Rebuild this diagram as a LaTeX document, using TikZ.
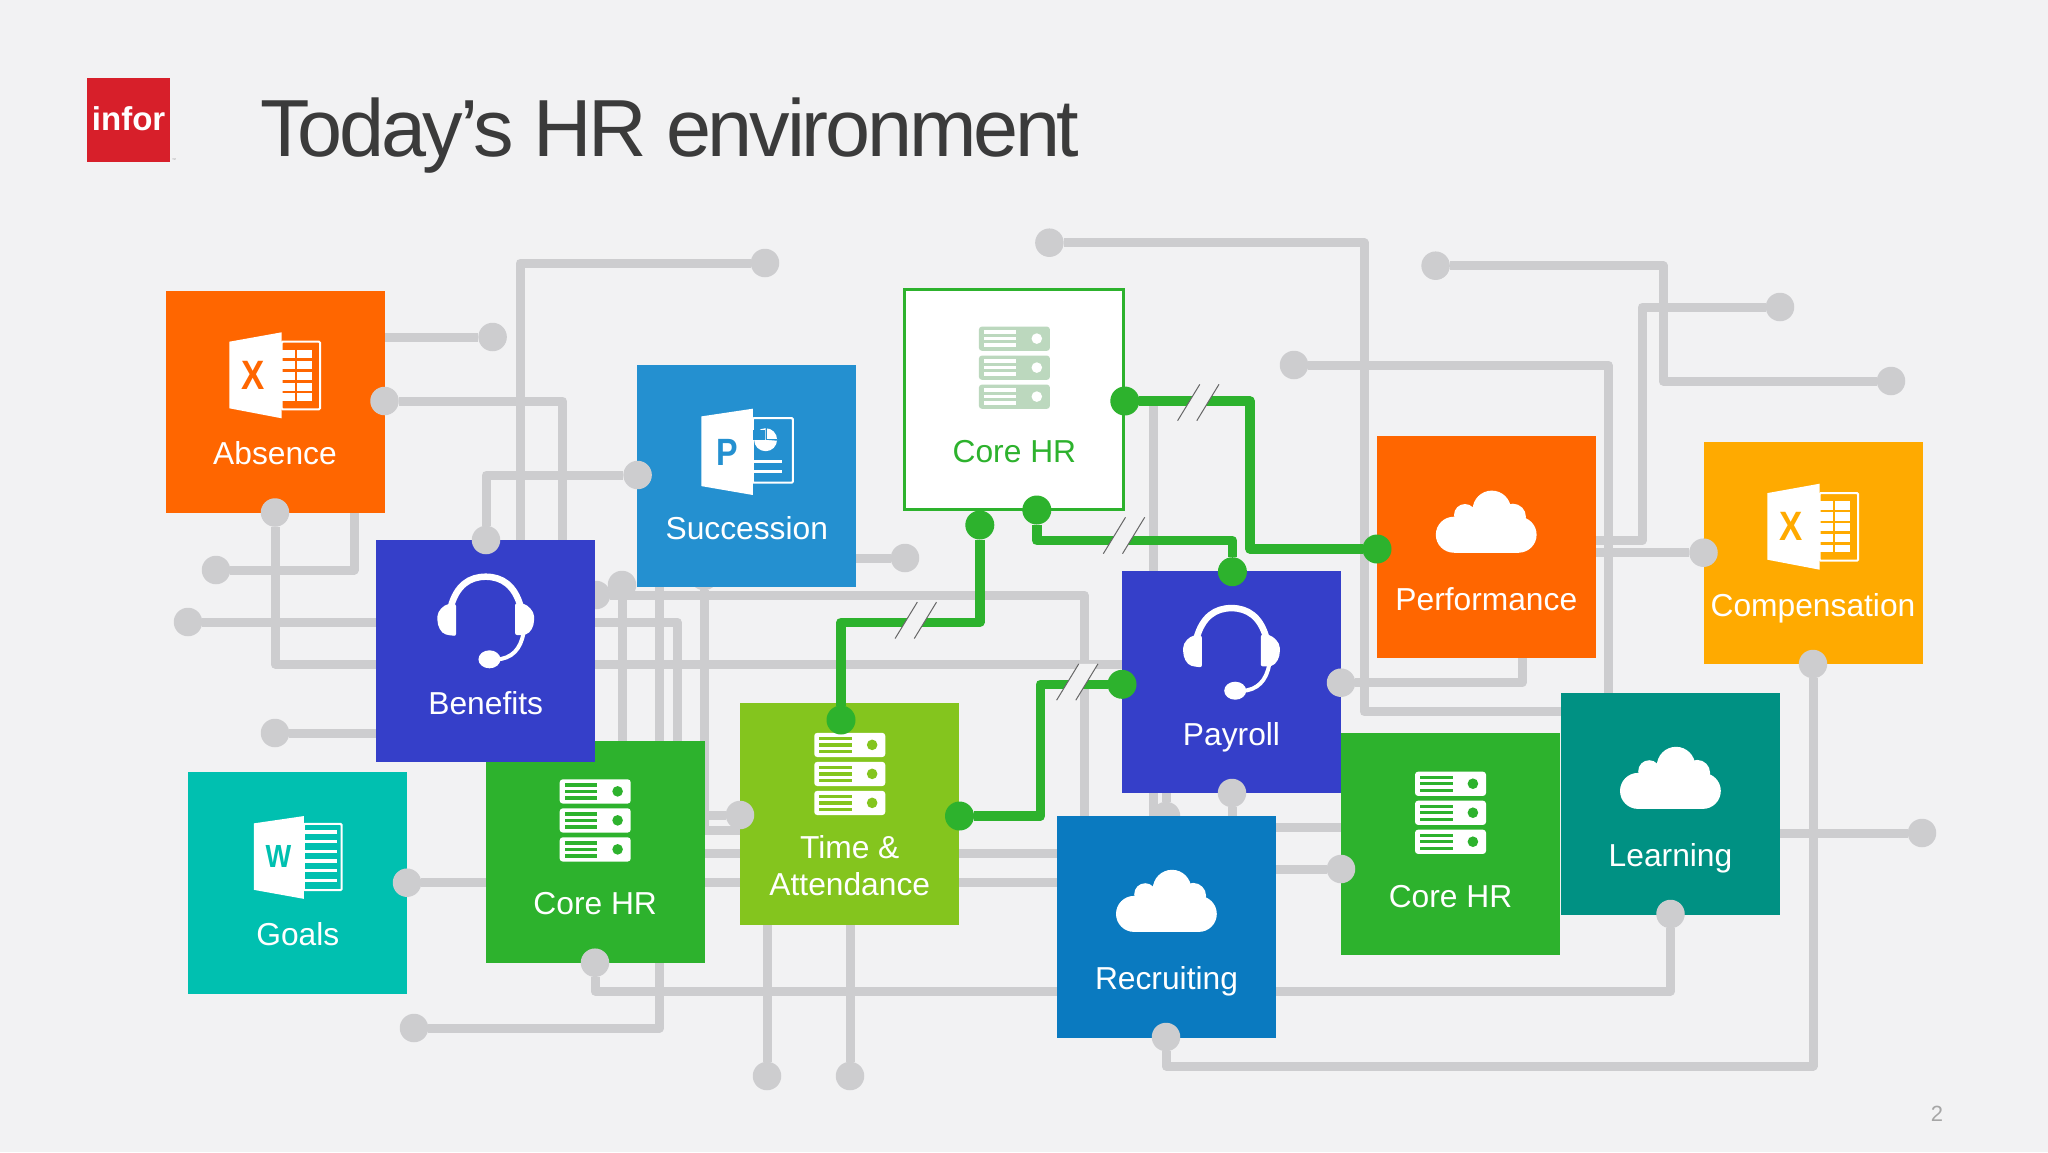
\documentclass[tikz,border=0pt]{standalone}
\usepackage{fontspec}
\setmainfont{Liberation Sans}
\pgfdeclarelayer{ground}
\pgfdeclarelayer{wires}
\pgfdeclarelayer{top}
\pgfsetlayers{ground,wires,main,top}
\definecolor{bgc}{HTML}{F2F2F3}
\definecolor{wirec}{HTML}{CDCDCF}
\definecolor{greenw}{HTML}{2DB22D}
\definecolor{cAbs}{HTML}{FF6600}
\definecolor{cSucc}{HTML}{2490D0}
\definecolor{cBlue}{HTML}{353FC9}
\definecolor{cTime}{HTML}{84C51E}
\definecolor{cGoal}{HTML}{00C0B0}
\definecolor{cComp}{HTML}{FFAA00}
\definecolor{cLearn}{HTML}{009183}
\definecolor{cRec}{HTML}{0A7AC0}
\definecolor{cPale}{HTML}{BCD8BE}
\definecolor{cRed}{HTML}{D71F2A}
\definecolor{cTitle}{HTML}{3B3B3B}
\tikzset{
  x=1pt,y=-1pt,
  tile/.style={minimum width=219pt,minimum height=222pt,inner sep=0pt,outer sep=0pt,fill=#1,draw=none},
  lbl/.style={anchor=base,inner sep=0pt,text=white,font=\fontsize{31.75}{36.6}\selectfont,align=center},
  gdot/.style={circle,minimum size=28.5pt,inner sep=0pt,outer sep=0pt,fill=wirec},
  vdot/.style={circle,minimum size=29pt,inner sep=0pt,outer sep=0pt,fill=greenw},
  wire/.style={draw=wirec,line width=9pt,line join=round},
  gwire/.style={draw=greenw,line width=9.5pt,line join=round},
  glyph/.style={inner sep=0pt,font=\fontsize{#1}{#1}\selectfont\bfseries},
  pics/excel/.style={code={
    \fill[white] (-45.7,-59.9) -- (6.7,-69.3) -- (6.7,16.7) -- (-45.7,6.7) -- cycle;
    \draw[white,line width=2pt,rounded corners=1pt] (6.7,-59.9) rectangle (45,7.7);
    \foreach \ya/\yb in {-51.6/-43.3,-40.6/-32.3,-29.6/-21.6,-18.9/-10.9,-8.3/-0.6}{
      \fill[white] (6.7,\ya) rectangle (20,\yb);
      \fill[white] (21.7,\ya) rectangle (36.7,\yb);
    }
    \node[glyph=41,text=#1] (xglyph) at (-21.8,-26.5) {\scalebox{.85}[1]{X}};
  }},
  pics/word/.style={code={
    \fill[white] (-43.9,-59.5) -- (6.1,-66.8) -- (6.1,16) -- (-43.9,7) -- cycle;
    \draw[white,line width=2pt,rounded corners=1pt] (6.1,-58.9) rectangle (43.8,7.3);
    \foreach \yy in {-50.8,-41.2,-31.5,-21.8,-12.2,-2.5}{
      \fill[white] (6.1,\yy-1.6) rectangle (39,\yy+1.6);
    }
    \node[glyph=32,text=#1] (wglyph) at (-19.4,-26) {\scalebox{.85}[1]{W}};
  }},
  pics/ppt/.style={code={
    \fill[white] (-45.5,-59.3) -- (6,-67) -- (6,19.3) -- (-45.5,10.4) -- cycle;
    \draw[white,line width=2pt,rounded corners=1pt] (6,-57.5) rectangle (46,7);
    \fill[white] (18.8,-36) circle[radius=11.5];
    \fill[#1] (18.8,-36) -- (18.8,-47.5) -- (20,-47.5) -- (20,-36.5) -- (30.3,-36.5) -- (30.3,-35) -- cycle;
    \fill[#1] (6,-36) -- (18,-36) -- (18,-46) -- (6,-46) -- cycle;
    \fill[white] (6,-16.2) rectangle (35,-13);
    \fill[white] (6,-6.2) rectangle (35,-3);
    \node[glyph=38,text=#1] (pglyph) at (-20,-23.6) {\scalebox{.85}[1]{P}};
  }},
  pics/server/.style 2 args={code={
    \foreach \yy in {-72.5,-43.5,-14.5}{
      \fill[#1,rounded corners=3pt] (-35.5,\yy) rectangle (35.5,\yy+24.2);
      \foreach \dd in {5.5,12,18.5}{
        \fill[#2] (-30.6,\yy+\dd-1.7) rectangle (2,\yy+\dd+1.7);
      }
      \fill[#2] (22.4,\yy+12) circle[radius=5.3];
    }
  }},
  pics/cloud/.style={code={
    \fill[white] (5.5,-37.5) circle[radius=19.2];
    \fill[white] (-21.3,-32.3) circle[radius=11];
    \fill[white] (26.6,-30.6) circle[radius=13];
    \fill[white] (-32.5,-12.6) circle[radius=18];
    \fill[white] (32.3,-12.6) circle[radius=18];
    \fill[white] (-32.5,-24) rectangle (32.3,5.4);
    \fill[white] (-21,-33) rectangle (26,-10);
  }},
  pics/headset/.style={code={
    \draw[white,line width=6.5pt] (-35,-44) .. controls (-29,-66) and (-16,-74.3) .. (0,-74.3) .. controls (16,-74.3) and (29,-66) .. (35,-44);
    \fill[white,rounded corners=2pt] (-29.7,-47) -- (-29.7,-15) -- (-38,-16) .. controls (-45,-18) and (-48.3,-25) .. (-48.3,-32.7) .. controls (-48.3,-40) and (-42,-46) .. (-36,-47) -- cycle;
    \fill[white,rounded corners=2pt] (29.3,-47.7) -- (29.3,-16) -- (38,-16) .. controls (45,-18) and (48.3,-25) .. (48.3,-32.7) .. controls (48.3,-40) and (42,-46) .. (36,-47.7) -- cycle;
    \draw[white,line width=4pt] (37.7,-18) .. controls (35,-2) and (26,8) .. (10,8.5);
    \fill[white] (3.7,8.3) ellipse[x radius=11,y radius=9];
  }},
  pics/breakmark/.style={code={
    \fill[bgc] (-20.7,18.2) -- (1.5,-18.2) -- (20.7,-18.2) -- (-1.5,18.2) -- cycle;
    \draw[black!60,line width=1pt] (-20.7,18.2) -- (1.5,-18.2);
    \draw[black!60,line width=1pt] (-1.5,18.2) -- (20.7,-18.2);
  }},
}
\begin{document}
\begin{tikzpicture}
\useasboundingbox (0,0) rectangle (2048,1152);
\begin{pgfonlayer}{ground}
\fill[bgc] (0,0) rectangle (2048,1152);
\end{pgfonlayer}

% logo and title
\node[minimum width=83pt,minimum height=84pt,inner sep=0pt,fill=cRed] (logo) at (128.3,120.2) {};
\node[anchor=base,inner sep=0pt,text=white,font=\fontsize{33}{33}\selectfont\bfseries] (logotext) at (128.6,130.7) {infor};
\node[inner sep=0pt,text=black!40,font=\fontsize{4}{4}\selectfont] (logotm) at (174,160) {™};
\node[anchor=base west,inner sep=0pt,text=cTitle,font=\fontsize{81}{90}\selectfont\addfontfeature{LetterSpace=-4.0}] (title) at (260,156.7) {Today’s HR environment};
\node[inner sep=0pt,text=black!35,font=\fontsize{22}{22}\selectfont] (pagenum) at (1937,1114) {2};

% tiles
\node[tile=cAbs] (absence) at (275,401.6) {};
\pic at (absence.center) {excel=cAbs};
\node[lbl] (absenceT) at ([yshift=-63pt]absence.center) {Absence};

\node[tile=cSucc] (succession) at (746.8,475.7) {};
\pic at (succession.center) {ppt=cSucc};
\node[lbl] (successionT) at ([yshift=-64pt]succession.center) {Succession};

\node[tile=greenw] (coreL) at (595.2,851.85) {};
\pic at (coreL.center) {server={white}{greenw}};
\node[lbl] (coreLT) at ([yshift=-63pt]coreL.center) {Core HR};

\node[tile=cBlue] (benefits) at (485.75,651) {};
\pic at (benefits.center) {headset};
\node[lbl] (benefitsT) at ([yshift=-63pt]benefits.center) {Benefits};

\node[tile=cGoal] (goals) at (297.8,882.85) {};
\pic at (goals.center) {word=cGoal};
\node[lbl] (goalsT) at ([yshift=-63pt]goals.center) {Goals};

\node[tile=cTime] (time) at (849.75,814.35) {};
\pic at ([yshift=9pt]time.center) {server={white}{cTime}};
\node[lbl,anchor=center] (timeT) at ([yshift=-51pt]time.center) {Time \&\\Attendance};

\node[minimum width=219pt,minimum height=220pt,inner sep=0pt,outer sep=0pt,fill=white,draw=greenw,line width=3pt] (corewhite) at (1014.4,399.1) {};
\pic at (corewhite.center) {server={cPale}{white}};
\node[lbl,text=greenw] (corewhiteT) at ([yshift=-63pt]corewhite.center) {Core HR};

\node[tile=cBlue] (payroll) at (1231.5,682.4) {};
\pic at (payroll.center) {headset};
\node[lbl] (payrollT) at ([yshift=-63pt]payroll.center) {Payroll};

\node[tile=cRec] (recruiting) at (1166.5,926.5) {};
\pic at (recruiting.center) {cloud};
\node[lbl] (recruitingT) at ([yshift=-63pt]recruiting.center) {Recruiting};

\node[tile=greenw] (coreR) at (1450.5,844.2) {};
\pic at (coreR.center) {server={white}{greenw}};
\node[lbl] (coreRT) at ([yshift=-63pt]coreR.center) {Core HR};

\node[tile=cAbs] (performance) at (1486.3,547.3) {};
\pic at (performance.center) {cloud};
\node[lbl] (performanceT) at ([yshift=-63pt]performance.center) {Performance};

\node[tile=cComp] (compensation) at (1813,553) {};
\pic at (compensation.center) {excel=cComp};
\node[lbl] (compensationT) at ([yshift=-63pt]compensation.center) {Compensation};

\node[tile=cLearn] (learning) at (1670.5,803.5) {};
\pic at (learning.center) {cloud};
\node[lbl] (learningT) at ([yshift=-63pt]learning.center) {Learning};

% visible grey dots
\begin{pgfonlayer}{top}
\foreach \nm/\px/\py in {dAbsR/492.6/337, dAbsE/384.5/401, dSuccTop/765/263, dSucc/637.6/475,
  dBenTop/486/540, dAbsB/275/512.5, dLa/216/570, dLb/188/622, dLc/275/733, dHa/622/585,
  dTimeL/740/815, dGoals/407/882.7, dCoreB/595/962.7, dLow/414/1028, dTa/767/1076, dTb/850/1076,
  dTop/1049.4/242.7, dMid/1294/365, dTRa/1435.6/265.7, dTRb/1780/307, dTRc/1891/381,
  dComp/1703.5/552.7, dCompB/1813/664, dRec/1166/1037, dLearnR/1922/833, dLearnB/1670.5/914,
  dPayE/1341/682.7, dPayB/1232/793, dCoreRL/1341/869, dSuccR/905/558}{
  \node[gdot] (\nm) at (\px,\py) {};
}
% green dots
\foreach \nm/\px/\py in {gWhiteR/1124.8/401, gWhiteB/1036.8/510, gWhiteC/979.8/525, gPerf/1377/549,
  gPayT/1232.4/571.7, gPayL/1122/684.3, gTimeT/841/720, gTimeR/959.5/816}{
  \node[vdot] (\nm) at (\px,\py) {};
}
\end{pgfonlayer}

% grey wiring, behind the tiles
\begin{pgfonlayer}{wires}
\foreach \nm/\px/\py in {dBenH/596/595, dSuccH/704/576, dRecH/1166/816}{
  \node[gdot] (\nm) at (\px,\py) {};
}
\coordinate (kb) at (562.5,560);
\coordinate (kc) at (520,560);
\coordinate (ke) at (1200,664);
\coordinate (kf) at (354,500);
\coordinate (kg) at (677,760);
\coordinate (ki) at (1084,830);
\coordinate (kk) at (659.5,1028);
\coordinate (kl) at (800,830);
\coordinate (km) at (1160,827);
\coordinate (kn) at (600,853);
\coordinate (ko) at (1670.5,991);
\coordinate (kp) at (1364,711.7);
\coordinate (kq) at (1608,750);
\coordinate (kr) at (1663,381);
\coordinate (ks) at (1642,540.7);
\coordinate (kt) at (1166,1066);
\coordinate (ku) at (1522,600);
\coordinate (kv) at (1153,400);
\draw[wire] (dAbsR) -- (dAbsR -| absence.center);
\draw[wire] (dAbsE) -| (kb);
\draw[wire] (dSuccTop) -| (kc);
\draw[wire] (dSucc) -| (dBenTop);
\draw[wire] (dAbsB) |- (ke);
\draw[wire] (dLa) -| (kf);
\draw[wire] (dLb) -| (kg);
\draw[wire] (dLc) -- (dLc -| benefits.center);
\draw[wire] (dBenH) -| (ki);
\draw[wire] (dHa) -- (dHa |- coreL.center);
\draw[wire] (dLow) -- (kk) -- (kk |- succession.center);
\draw[wire] (dSuccH) |- (kl);
\draw[wire] (km) -- (km -| coreR.center);
\draw[wire] (kn) -- (kn -| recruiting.center);
\draw[wire] (dGoals) -- (dGoals -| recruiting.center);
\draw[wire] (dCoreB) |- (ko) -- (dLearnB);
\draw[wire] (dTa) -- (dTa |- time.center);
\draw[wire] (dTb) -- (dTb |- time.center);
\draw[wire] (dTimeL) -- (dTimeL -| coreL.center);
\draw[wire] (dTop) -| (kp) -- (kp -| learning.center);
\draw[wire] (dMid) -| (kq);
\draw[wire] (dTRa) -| (kr) -- (dTRc);
\draw[wire] (dTRb) -| (ks) -- (ks -| performance.center);
\draw[wire] (dComp) -- (dComp -| performance.center);
\draw[wire] (dCompB) |- (kt) -- (dRec);
\draw[wire] (dLearnR) -- (dLearnR -| learning.center);
\draw[wire] (dPayE) -| (ku);
\draw[wire] (dPayB) -- (dPayB |- recruiting.center);
\draw[wire] (dSuccR) -- (dSuccR -| succession.center);
\draw[wire] (dCoreRL) -- (dCoreRL -| recruiting.center);
\draw[wire] (corewhite.center |- kv) -- (kv) -- (kv |- recruiting.center);
\draw[wire] (dRecH) -- (dRecH |- payroll.center);
\end{pgfonlayer}

% green wiring with break marks
\begin{pgfonlayer}{top}
\coordinate (ga) at (1250,549);
\coordinate (gb) at (1232.4,540.7);
\coordinate (gc) at (841,622.3);
\coordinate (gd) at (1040.4,684.3);
\draw[gwire] (gWhiteR) -| (ga) -- (gPerf);
\draw[gwire] (gWhiteB) |- (gb) -- (gPayT);
\draw[gwire] (gWhiteC) |- (gc) -- (gTimeT);
\draw[gwire] (gTimeR) -| (gd) -- (gPayL);
\coordinate (ba) at (1198.3,402.5);
\coordinate (bb) at (1124,535.5);
\coordinate (bc) at (915.8,620.3);
\coordinate (bd) at (1077.3,682);
\pic at (ba) {breakmark};
\pic at (bb) {breakmark};
\pic at (bc) {breakmark};
\pic at (bd) {breakmark};
\end{pgfonlayer}
\end{tikzpicture}
\end{document}
